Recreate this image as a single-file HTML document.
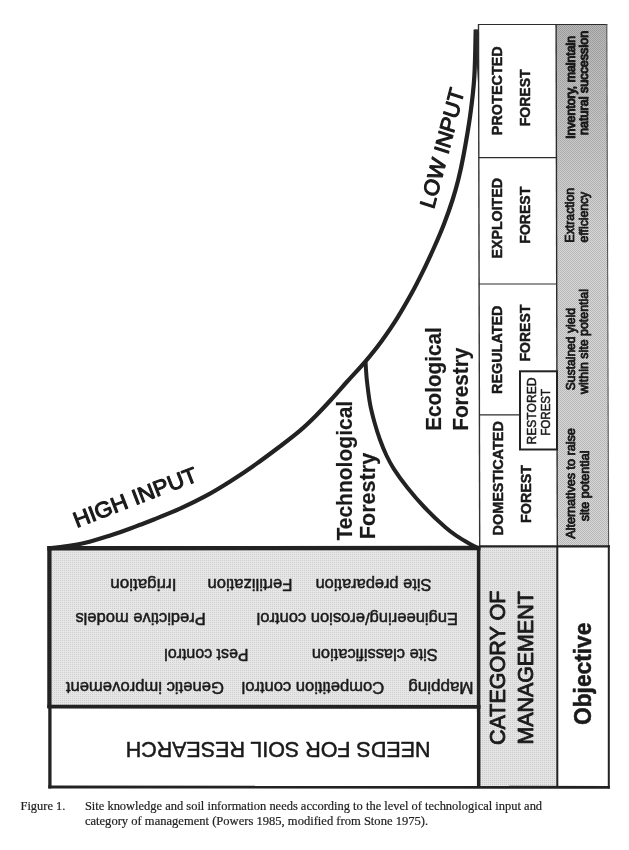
<!DOCTYPE html>
<html><head><meta charset="utf-8"><title>Figure 1</title>
<style>
html,body{margin:0;padding:0;background:#fff;}
body{width:629px;height:850px;overflow:hidden;position:relative;font-family:"Liberation Sans",sans-serif;}
svg{position:absolute;left:0;top:0;}
svg text{font-family:"Liberation Sans",sans-serif;fill:#1a1a1a;stroke:#1a1a1a;stroke-width:0.5px;stroke-linejoin:round;}
svg text.ser{font-family:"Liberation Serif",serif;fill:#222;stroke:#222;stroke-width:0.2px;}
</style></head><body>
<svg width="629" height="850" viewBox="0 0 629 850" style="filter:grayscale(1)">
<defs>
<pattern id="pl" width="2" height="2" patternUnits="userSpaceOnUse"><rect width="2" height="2" fill="#e6e6e6"/><rect width="1" height="1" fill="#d0d0d0"/></pattern>
<pattern id="pm" width="2" height="2" patternUnits="userSpaceOnUse"><rect width="2" height="2" fill="#e4e4e4"/><rect width="1" height="1" fill="#cccccc"/></pattern>
<pattern id="pd" width="2" height="2" patternUnits="userSpaceOnUse"><rect width="2" height="2" fill="#d8d8d8"/><rect width="1" height="1" fill="#b4b4b4"/><rect x="1" y="1" width="1" height="1" fill="#b8b8b8"/></pattern>
<linearGradient id="gd" x1="0" y1="0" x2="0" y2="1"><stop offset="0" stop-color="#000" stop-opacity="0.15"/><stop offset="0.4" stop-color="#000" stop-opacity="0.0"/><stop offset="1" stop-color="#fff" stop-opacity="0.0"/></linearGradient>
</defs>

<rect x="50" y="549" width="428" height="156" fill="url(#pl)"/>
<rect x="480" y="547" width="77" height="239" fill="url(#pm)"/>
<path d="M556.3,25 L606.8,25 L608.6,546 L557.4,546 Z" fill="url(#pd)"/>
<path d="M556.3,25 L606.8,25 L608.6,546 L557.4,546 Z" fill="url(#gd)"/>
<g stroke="#2c2c2c" fill="none">
<path d="M478.3,24.5 L607.3,24.5" stroke-width="1.2"/>
<path d="M478.5,24 L479.7,546" stroke-width="1.4" stroke="#333"/>
<path d="M606.8,24 L608.6,546" stroke-width="1.1" stroke="#555"/>
<path d="M556.1,24 L557.3,546" stroke-width="1.4"/>
<path d="M478.6,157.7 L556.3,157.7" stroke-width="1.2"/>
<path d="M478.9,284 L556.6,284" stroke-width="1.2"/>
<path d="M479.3,414.8 L519.5,414.8" stroke-width="1.2"/>
<rect x="520" y="371.3" width="37" height="78.2" stroke-width="2" stroke="#222"/>
</g>
<g stroke="#222" fill="none" stroke-linecap="butt">
<path d="M49.4,546 L49.4,708" stroke-width="4.3"/>
<path d="M49.9,706 L49.9,788.4" stroke-width="3.3"/>
<path d="M47.3,548.3 L480.5,548" stroke-width="4.4"/>
<path d="M47.3,706.6 L480.5,706.9" stroke-width="3.8"/>
<path d="M478.6,546 L478.7,788" stroke-width="3.5"/>
<path d="M480,546.4 L610,546.4" stroke-width="2.2"/>
<path d="M48.3,787 L609.8,787.3" stroke-width="2.8"/>
<path d="M557.3,546 L557.3,788" stroke-width="2"/>
<path d="M608.8,545.5 L608.8,788.5" stroke-width="2"/>
</g>
<path d="M49.0,548.2 C50.8,548.0 53.9,548.1 60.0,547.2 C66.1,546.3 76.9,544.8 85.4,542.8 C93.9,540.8 103.6,537.6 110.9,535.3 C118.2,533.0 124.2,530.8 129.0,529.0 C133.8,527.2 135.8,526.4 140.0,524.8 C144.2,523.2 147.8,521.9 154.5,519.2 C161.2,516.5 171.5,512.4 180.0,508.6 C188.5,504.8 196.9,500.8 205.4,496.2 C213.9,491.6 222.4,486.4 230.9,481.0 C239.4,475.6 248.1,469.7 256.3,463.9 C264.5,458.1 272.7,451.9 280.0,446.4 C287.3,440.8 294.0,435.7 300.0,430.6 C306.0,425.5 310.7,420.9 315.9,415.7 C321.1,410.5 326.0,405.2 331.2,399.5 C336.4,393.8 341.5,387.9 347.2,381.5 C352.9,375.1 359.8,368.0 365.5,361.3 C371.2,354.6 376.2,348.5 381.5,341.2 C386.8,333.9 392.6,325.5 397.5,317.6 C402.4,309.8 406.9,301.9 411.2,294.1 C415.5,286.3 419.4,278.5 423.3,270.6 C427.2,262.8 430.8,254.8 434.3,247.0 C437.8,239.2 441.2,231.3 444.2,223.5 C447.2,215.7 450.2,207.2 452.5,200.0 C454.8,192.8 456.3,187.5 458.2,180.0 C460.1,172.5 461.6,165.8 463.6,155.0 C465.6,144.2 468.4,128.4 470.2,115.4 C472.0,102.4 473.4,91.3 474.3,77.0 C475.2,62.7 475.5,37.5 475.7,29.6" stroke="#222" stroke-width="4.2" fill="none" stroke-linecap="butt"/>
<path d="M365.5,361.3 C365.7,364.4 366.1,372.6 366.8,379.7 C367.6,386.8 368.7,396.4 370.0,403.6 C371.3,410.8 372.9,416.6 374.6,422.7 C376.3,428.8 378.1,434.5 380.1,440.0 C382.1,445.5 384.2,450.7 386.5,455.5 C388.8,460.3 390.4,463.5 393.8,468.8 C397.2,474.1 402.0,480.8 407.1,487.2 C412.2,493.6 417.8,500.3 424.2,507.0 C430.6,513.7 439.6,522.3 445.3,527.3 C451.0,532.3 453.9,534.0 458.2,536.9 C462.5,539.8 467.8,542.7 470.9,544.5 C474.0,546.3 476.0,547.1 477.0,547.6" stroke="#222" stroke-width="4" fill="none"/>
<path d="M474.5,29.6 L478.5,29.6 L479,98 Z" fill="#2a2a2a" stroke="none"/>
<text transform="translate(501.9,135.2) rotate(-90)" font-size="15.40" font-weight="bold" text-anchor="start" textLength="89.0" lengthAdjust="spacingAndGlyphs">PROTECTED</text>
<text transform="translate(529.7,126.3) rotate(-90)" font-size="15.40" font-weight="bold" text-anchor="start" textLength="57.0" lengthAdjust="spacingAndGlyphs">FOREST</text>
<text transform="translate(501.8,258.5) rotate(-90)" font-size="15.40" font-weight="bold" text-anchor="start" textLength="80.5" lengthAdjust="spacingAndGlyphs">EXPLOITED</text>
<text transform="translate(530.1,243.7) rotate(-90)" font-size="15.40" font-weight="bold" text-anchor="start" textLength="57.0" lengthAdjust="spacingAndGlyphs">FOREST</text>
<text transform="translate(501.8,394.0) rotate(-90)" font-size="15.40" font-weight="bold" text-anchor="start" textLength="88.5" lengthAdjust="spacingAndGlyphs">REGULATED</text>
<text transform="translate(530.1,361.6) rotate(-90)" font-size="15.40" font-weight="bold" text-anchor="start" textLength="57.0" lengthAdjust="spacingAndGlyphs">FOREST</text>
<text transform="translate(503.0,535.5) rotate(-90)" font-size="15.40" font-weight="bold" text-anchor="start" textLength="114.3" lengthAdjust="spacingAndGlyphs">DOMESTICATED</text>
<text transform="translate(530.8,522.9) rotate(-90)" font-size="15.40" font-weight="bold" text-anchor="start" textLength="58.0" lengthAdjust="spacingAndGlyphs">FOREST</text>
<text transform="translate(536.0,444.5) rotate(-90)" font-size="12.00" font-weight="normal" text-anchor="start" textLength="67.0" lengthAdjust="spacingAndGlyphs">RESTORED</text>
<text transform="translate(550.0,435.7) rotate(-90)" font-size="12.00" font-weight="normal" text-anchor="start" textLength="46.8" lengthAdjust="spacingAndGlyphs">FOREST</text>
<text transform="translate(574.6,138.8) rotate(-90)" font-size="12.20" font-weight="normal" text-anchor="start" textLength="103.0" lengthAdjust="spacingAndGlyphs" style="stroke-width:1.1px">Inventory, maintain</text>
<text transform="translate(588.4,135.0) rotate(-90)" font-size="12.20" font-weight="normal" text-anchor="start" textLength="104.2" lengthAdjust="spacingAndGlyphs" style="stroke-width:1.1px">natural succession</text>
<text transform="translate(573.9,242.4) rotate(-90)" font-size="12.20" font-weight="normal" text-anchor="start" textLength="54.4" lengthAdjust="spacingAndGlyphs" style="stroke-width:0.85px">Extraction</text>
<text transform="translate(588.1,242.4) rotate(-90)" font-size="12.20" font-weight="normal" text-anchor="start" textLength="50.6" lengthAdjust="spacingAndGlyphs" style="stroke-width:0.85px">efficiency</text>
<text transform="translate(574.8,390.3) rotate(-90)" font-size="12.20" font-weight="normal" text-anchor="start" textLength="82.2" lengthAdjust="spacingAndGlyphs" style="stroke-width:0.85px">Sustained yield</text>
<text transform="translate(588.4,393.9) rotate(-90)" font-size="12.20" font-weight="normal" text-anchor="start" textLength="104.9" lengthAdjust="spacingAndGlyphs" style="stroke-width:0.85px">within site potential</text>
<text transform="translate(575.2,538.8) rotate(-90)" font-size="12.20" font-weight="normal" text-anchor="start" textLength="110.6" lengthAdjust="spacingAndGlyphs" style="stroke-width:0.85px">Alternatives to raise</text>
<text transform="translate(588.6,521.3) rotate(-90)" font-size="12.20" font-weight="normal" text-anchor="start" textLength="70.5" lengthAdjust="spacingAndGlyphs" style="stroke-width:0.85px">site potential</text>
<text transform="translate(505.0,745.0) rotate(-90)" font-size="21.80" font-weight="normal" text-anchor="start" textLength="154.4" lengthAdjust="spacingAndGlyphs" style="stroke-width:0.9px">CATEGORY OF</text>
<text transform="translate(532.8,744.6) rotate(-90)" font-size="21.80" font-weight="normal" text-anchor="start" textLength="153.3" lengthAdjust="spacingAndGlyphs" style="stroke-width:0.9px">MANAGEMENT</text>
<text transform="translate(590.6,725.0) rotate(-90)" font-size="23.00" font-weight="bold" text-anchor="start" textLength="102.4" lengthAdjust="spacingAndGlyphs">Objective</text>
<text transform="translate(351.6,540.6) rotate(-90)" font-size="22.80" font-weight="bold" text-anchor="start" textLength="139.8" lengthAdjust="spacingAndGlyphs" style="stroke-width:0.2px">Technological</text>
<text transform="translate(375.0,539.2) rotate(-90)" font-size="22.80" font-weight="bold" text-anchor="start" textLength="86.4" lengthAdjust="spacingAndGlyphs" style="stroke-width:0.2px">Forestry</text>
<text transform="translate(441.0,430.8) rotate(-90)" font-size="22.80" font-weight="bold" text-anchor="start" textLength="103.6" lengthAdjust="spacingAndGlyphs" style="stroke-width:0.2px">Ecological</text>
<text transform="translate(468.4,430.8) rotate(-90)" font-size="22.80" font-weight="bold" text-anchor="start" textLength="83.2" lengthAdjust="spacingAndGlyphs" style="stroke-width:0.2px">Forestry</text>
<text transform="translate(76.7,528) rotate(-21.2)" font-size="21.8" textLength="131" lengthAdjust="spacingAndGlyphs" style="stroke-width:1.05px">HIGH INPUT</text>
<text transform="translate(433.8,209.8) rotate(-75.5) skewX(-3.5)" font-size="21.4" textLength="122.5" lengthAdjust="spacingAndGlyphs" style="stroke-width:1.05px">LOW INPUT</text>
<text transform="translate(176.4,579.3) rotate(180)" font-size="16.60" textLength="66.0" lengthAdjust="spacingAndGlyphs">Irrigation</text>
<text transform="translate(292.4,579.0) rotate(180)" font-size="16.60" textLength="84.9" lengthAdjust="spacingAndGlyphs">Fertilization</text>
<text transform="translate(431.5,578.6) rotate(180)" font-size="16.60" textLength="116.0" lengthAdjust="spacingAndGlyphs">Site preparation</text>
<text transform="translate(205.8,613.0) rotate(180)" font-size="16.60" textLength="130.4" lengthAdjust="spacingAndGlyphs">Predictive models</text>
<text transform="translate(458.0,613.0) rotate(180)" font-size="16.60" textLength="201.5" lengthAdjust="spacingAndGlyphs">Engineering/erosion control</text>
<text transform="translate(248.6,649.0) rotate(180)" font-size="16.60" textLength="84.4" lengthAdjust="spacingAndGlyphs">Pest control</text>
<text transform="translate(437.8,648.6) rotate(180)" font-size="16.60" textLength="126.0" lengthAdjust="spacingAndGlyphs">Site classification</text>
<text transform="translate(223.9,682.0) rotate(180)" font-size="16.60" textLength="158.0" lengthAdjust="spacingAndGlyphs">Genetic improvement</text>
<text transform="translate(384.3,682.2) rotate(180)" font-size="16.60" textLength="142.8" lengthAdjust="spacingAndGlyphs">Competition control</text>
<text transform="translate(473.6,682.4) rotate(180)" font-size="16.60" textLength="65.3" lengthAdjust="spacingAndGlyphs">Mapping</text>
<text transform="translate(430.6,741.6) rotate(180)" font-size="21.60" textLength="305.0" lengthAdjust="spacingAndGlyphs">NEEDS FOR SOIL RESEARCH</text>
<text class="ser" x="20.5" y="809.8" font-size="12.45">Figure 1.</text>
<text class="ser" x="84.9" y="810" font-size="12.45" textLength="457.2" lengthAdjust="spacingAndGlyphs">Site knowledge and soil information needs according to the level of technological input and</text>
<text class="ser" x="84.9" y="824.6" font-size="12.45" textLength="343.2" lengthAdjust="spacingAndGlyphs">category of management (Powers 1985, modified from Stone 1975).</text>
</svg>
</body></html>
